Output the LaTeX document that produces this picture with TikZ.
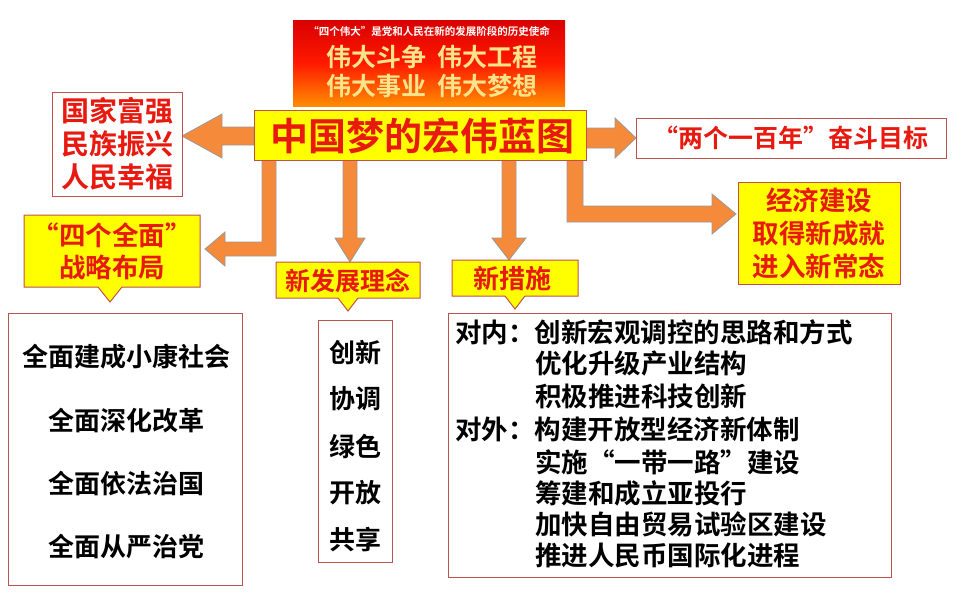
\documentclass[tikz,border=0pt]{standalone}
\usepackage{fontspec}
\setmainfont{Noto Sans CJK SC}[BoldFont={Noto Sans CJK SC Bold}]
\newfontfamily\cjkb{Noto Sans CJK SC Bold}
\definecolor{rd}{HTML}{E8190E}
\definecolor{yl}{HTML}{FFFF00}
\definecolor{brd}{HTML}{C0504D}
\definecolor{arr}{HTML}{F58A3A}
\definecolor{gold}{HTML}{FBE38A}
\tikzset{
  barrow/.style={fill=arr,draw=gray!80,line width=0.8pt,line join=miter},
  ybox/.style={fill=yl,draw=brd,line width=1pt},
  wbox/.style={fill=white,draw=brd,line width=1pt},
  rtxt/.style={text=rd,font=\cjkb,align=center,inner sep=0pt},
  btxt/.style={text=black,font=\cjkb\fontsize{26.5}{30}\selectfont,inner sep=0pt,anchor=west},
  ltxt/.style={text=black,font=\cjkb\fontsize{26}{30}\selectfont,inner sep=0pt},
}
\begin{document}
\begin{tikzpicture}[x=1pt,y=-1pt]
\useasboundingbox (0,0) rectangle (964,603);
% banner
\shade[top color=red!85!black,bottom color=orange!90!yellow,middle color=red!80!orange] (293,20) rectangle (565,106);
\node[text=white,font=\cjkb\fontsize{10.5}{11}\selectfont,inner sep=0pt] (bt) at (429,31) {“四个伟大”是党和人民在新的发展阶段的历史使命};
\node[text=gold,font=\cjkb\fontsize{25}{29}\selectfont,align=center,inner sep=0pt] (bl) at (432,72) {伟大斗争\ \ 伟大工程\\伟大事业\ \ 伟大梦想};
% arrows
\draw[barrow] (254,127) -- (222,127) -- (222,114) -- (182,136) -- (222,158) -- (222,145) -- (254,145) -- cycle;
\draw[barrow] (586,128) -- (615,128) -- (615,118) -- (636,138) -- (615,158) -- (615,148) -- (586,148) -- cycle;
\draw[barrow] (343,160) -- (343,238) -- (335,238) -- (350,262) -- (365,238) -- (357,238) -- (357,160) -- cycle;
\draw[barrow] (502,160) -- (502,238) -- (492,238) -- (509,260) -- (526,238) -- (516,238) -- (516,160) -- cycle;
\draw[barrow] (262,160) -- (262,242) -- (225,242) -- (225,232) -- (205,249) -- (225,266) -- (225,256) -- (276,256) -- (276,160) -- cycle;
\draw[barrow] (567,160) -- (567,222) -- (712,222) -- (712,234) -- (736,214) -- (712,194) -- (712,206) -- (583,206) -- (583,160) -- cycle;
% main
\draw[ybox] (254,110) rectangle (586,160);
\node[rtxt,font=\cjkb\fontsize{38}{40}\selectfont] (main) at (422,136) {中国梦的宏伟蓝图};
\draw[wbox] (52,92) rectangle (182,196);
\node[rtxt,font=\cjkb\fontsize{28}{33}\selectfont] (goal) at (117,144) {国家富强\\民族振兴\\人民幸福};
\draw[wbox] (636,118) rectangle (946,158);
\node[rtxt,font=\cjkb\fontsize{25}{28}\selectfont] (two) at (791,138) {“两个一百年”奋斗目标};
% callouts
\draw[ybox] (24,215) -- (200,215) -- (200,287) -- (122,287) -- (110,302) -- (98,287) -- (24,287) -- cycle;
\node[rtxt,font=\cjkb\fontsize{26.5}{32}\selectfont] (four) at (112,251) {“四个全面”\\战略布局};
\draw[ybox] (276,262) -- (420,262) -- (420,298) -- (358,298) -- (348,311) -- (338,298) -- (276,298) -- cycle;
\node[rtxt,font=\cjkb\fontsize{25}{26}\selectfont] (idea) at (348,281) {新发展理念};
\draw[ybox] (452,260) -- (578,260) -- (578,296) -- (525,296) -- (515,309) -- (505,296) -- (452,296) -- cycle;
\node[rtxt,font=\cjkb\fontsize{26}{26}\selectfont] (meas) at (512,279) {新措施};
\draw[ybox] (738,182) rectangle (900,284);
\node[rtxt,font=\cjkb\fontsize{26.5}{33}\selectfont] (econ) at (819,233) {经济建设\\取得新成就\\进入新常态};
% bottom boxes
\draw[wbox] (8,313) rectangle (242,585);
\foreach \t/\y [count=\i] in {全面建成小康社会/357,全面深化改革/421,全面依法治国/484,全面从严治党/547}
  \node[ltxt] (L\i) at (126,\y) {\t};
\draw[wbox] (318,320) rectangle (392,562);
\foreach \t/\y [count=\i] in {创新/353,协调/399,绿色/446,开放/493,共享/540}
  \node[ltxt] (M\i) at (355,\y) {\t};
\draw[wbox] (448,313) rectangle (891,577);
\node[btxt] (r1) at (455,332) {对内：创新宏观调控的思路和方式};
\node[btxt] (r2) at (535,364) {优化升级产业结构};
\node[btxt] (r3) at (535,396) {积极推进科技创新};
\node[btxt] (r4) at (455,429) {对外：构建开放型经济新体制};
\node[btxt] (r5) at (535,462) {实施“一带一路”建设};
\node[btxt] (r6) at (535,493) {筹建和成立亚投行};
\node[btxt] (r7) at (535,524) {加快自由贸易试验区建设};
\node[btxt] (r8) at (535,555) {推进人民币国际化进程};
\end{tikzpicture}
\end{document}
